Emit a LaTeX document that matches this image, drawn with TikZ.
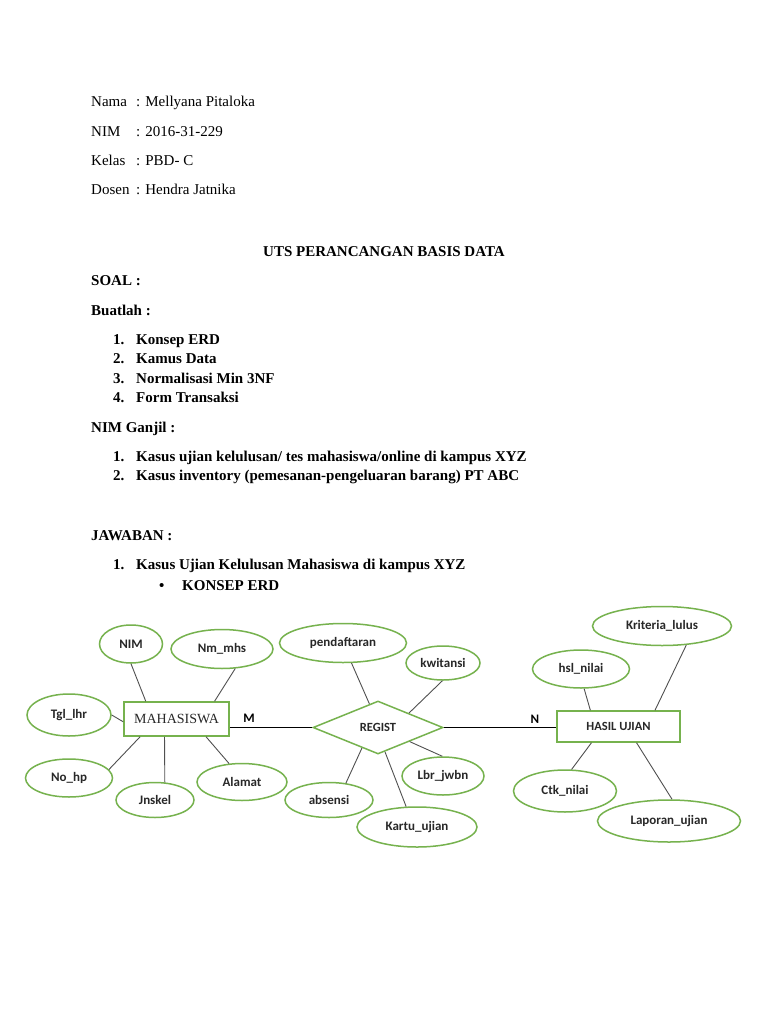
\documentclass[tikz,border=0pt]{standalone}
\usepackage{fontspec}
\setmainfont{Liberation Serif}
\newfontfamily\carlito{Carlito}
\usetikzlibrary{shapes.geometric}
\definecolor{ergreen}{RGB}{118,178,78}
\definecolor{conn}{RGB}{80,80,80}
\definecolor{dtext}{RGB}{40,40,40}
\begin{document}
\begin{tikzpicture}[x=1pt,y=-1pt,
 txt/.style={anchor=base west,inner sep=0pt,font=\fontsize{15}{18}\selectfont},
 btxt/.style={anchor=base west,inner sep=0pt,font=\fontsize{15}{18}\selectfont\bfseries},
 attr/.style={ellipse,draw=ergreen,line width=1.5pt,inner sep=0pt,text=dtext,font=\carlito\bfseries\fontsize{13}{16}\selectfont},
 ent/.style={rectangle,draw=ergreen,line width=1.5pt,inner sep=0pt,text=dtext},
 link/.style={draw=conn,line width=0.9pt},
 rel/.style={draw=black,line width=1pt},
 card/.style={inner sep=0pt,font=\carlito\bfseries\fontsize{13}{16}\selectfont}]
\fill[white] (0,0) rectangle (768,1024);
\useasboundingbox (0,0) rectangle (768,1024);

% header
\node[txt] (l1a) at (91,107) {Nama};
\node[txt] (l1b) at (136,107) {: Mellyana Pitaloka};
\node[txt] (l2a) at (91,137) {NIM};
\node[txt] (l2b) at (136,137) {: 2016-31-229};
\node[txt] (l3a) at (91,166) {Kelas};
\node[txt] (l3b) at (136,166) {: PBD- C};
\node[txt] (l4a) at (91,195) {Dosen};
\node[txt] (l4b) at (136,195) {: Hendra Jatnika};

\node[btxt,anchor=base] (title) at (384,256) {UTS PERANCANGAN BASIS DATA};
\node[btxt] (soal) at (91,285) {SOAL :};
\node[btxt] (buat) at (91,315) {Buatlah :};
\node[btxt] (n1) at (113,344) {1.};
\node[btxt] (t1) at (136,344) {Konsep ERD};
\node[btxt] (n2) at (113,363) {2.};
\node[btxt] (t2) at (136,363) {Kamus Data};
\node[btxt] (n3) at (113,383) {3.};
\node[btxt] (t3) at (136,383) {Normalisasi Min 3NF};
\node[btxt] (n4) at (113,402) {4.};
\node[btxt] (t4) at (136,402) {Form Transaksi};

\node[btxt] (ganjil) at (91,432) {NIM Ganjil :};
\node[btxt] (g1n) at (113,461) {1.};
\node[btxt] (g1t) at (136,461) {Kasus ujian kelulusan/ tes mahasiswa/online di kampus XYZ};
\node[btxt] (g2n) at (113,480) {2.};
\node[btxt] (g2t) at (136,480) {Kasus inventory (pemesanan-pengeluaran barang) PT ABC};

\node[btxt] (jaw) at (91,540) {JAWABAN :};
\node[btxt] (j1n) at (113,569) {1.};
\node[btxt] (j1t) at (136,569) {Kasus Ujian Kelulusan Mahasiswa di kampus XYZ};
\node[btxt] (bul) at (159,590) {\textbullet};
\node[btxt] (j2t) at (182,590) {KONSEP ERD};

% entities
\node[ent,minimum width=105pt,minimum height=34pt,font=\fontsize{14}{16}\selectfont] (mhs) at (176.5,719) {MAHASISWA};
\node[ent,minimum width=123pt,minimum height=31pt,font=\carlito\bfseries\fontsize{12.5}{16}\selectfont] (hsl) at (618.5,726.5) {HASIL UJIAN};
\node[diamond,draw=ergreen,line width=1.5pt,minimum width=130pt,minimum height=53pt,inner sep=0pt,text=dtext,font=\carlito\bfseries\fontsize{12.5}{16}\selectfont] (reg) at (378,727.5) {REGIST};

% attributes of MAHASISWA
\node[attr,minimum width=63pt,minimum height=38pt] (nim) at (131,644) {NIM};
\node[attr,minimum width=102pt,minimum height=39pt] (nm) at (222,649) {Nm\_mhs};
\node[attr,minimum width=84pt,minimum height=42pt] (tgl) at (69,715) {Tgl\_lhr};
\node[attr,minimum width=87pt,minimum height=38pt] (nohp) at (69,778) {No\_hp};
\node[attr,minimum width=78pt,minimum height=35pt] (jns) at (155,800) {Jnskel};
\node[attr,minimum width=90pt,minimum height=37pt] (alm) at (242,782) {Alamat};

% attributes of REGIST
\node[attr,minimum width=127pt,minimum height=39pt] (pend) at (343,643) {pendaftaran};
\node[attr,minimum width=74pt,minimum height=34pt] (kwi) at (443,663) {kwitansi};
\node[attr,minimum width=82pt,minimum height=38pt] (lbr) at (443,776) {Lbr\_jwbn};
\node[attr,minimum width=88pt,minimum height=35pt] (abs) at (329,800) {absensi};
\node[attr,minimum width=120pt,minimum height=40pt] (kart) at (417,827) {Kartu\_ujian};

% attributes of HASIL UJIAN
\node[attr,minimum width=139pt,minimum height=39pt] (krit) at (662,626) {Kriteria\_lulus};
\node[attr,minimum width=97pt,minimum height=38pt] (hn) at (581,669) {hsl\_nilai};
\node[attr,minimum width=103pt,minimum height=42pt] (ctk) at (565,791) {Ctk\_nilai};
\node[attr,minimum width=143pt,minimum height=42pt] (lap) at (669,821) {Laporan\_ujian};

% connectors
\draw[link] (nim.south) -- (mhs.150);
\draw[link] (nm.-56) -- (mhs.25);
\draw[link] (tgl.east) -- (mhs.183);
\draw[link] (nohp.12) -- (mhs.206);
\draw[link] (jns.61) -- (mhs.236);
\draw[link] (alm.125) -- (mhs.-31);

\draw[link] (pend.-67) -- (reg.110);
\draw[link] (kwi.-92) -- (reg.25);
\draw[link] (lbr.92) -- (reg.-24);
\draw[link] (abs.45) -- (reg.232);
\draw[link] (kart.118) -- (reg.-74);

\draw[link] (krit.-38) -- (hsl.24);
\draw[link] (hn.-81) -- (hsl.150);
\draw[link] (ctk.73) -- (hsl.211);
\draw[link] (lap.82) -- (hsl.-42);

\draw[rel] (mhs.east |- reg.west) -- (reg.west);
\draw[rel] (reg.east) -- (hsl.west |- reg.east);
\node[card] (cm) at (249,718) {M};
\node[card] (cn) at (535,719) {N};
\end{tikzpicture}
\end{document}
